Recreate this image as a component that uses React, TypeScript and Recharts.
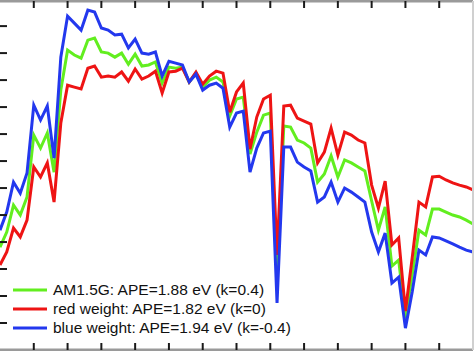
import React from 'react';
import { LineChart, Line, XAxis, YAxis } from 'recharts';

// sampling step along x (5 samples per major tick)
const X_STEP = 0.2;

const AM15G = [
  3.81, 4.37, 5.37, 5.0, 5.67, 7.96, 7.48, 8.04, 6.59, 9.63,
  11.11, 10.93, 10.81, 11.48, 11.56, 11.04, 11.0, 10.85, 11.0, 10.59,
  10.96, 10.52, 10.56, 10.67, 9.89, 10.48, 10.44, 10.48, 9.93, 10.26,
  9.74, 10.0, 10.11, 9.93, 8.67, 9.3, 9.37, 7.26, 8.07, 8.7,
  8.78, 2.59, 8.3, 8.26, 7.78, 7.67, 7.48, 6.22, 6.52, 7.19,
  6.41, 7.04, 6.93, 6.78, 6.63, 5.52, 4.44, 5.3, 3.11, 3.33,
  1.19, 2.78, 4.44, 4.26, 5.22, 5.22, 5.11, 5.0, 4.93, 4.81,
  4.67,
];

const RED_WEIGHT = [
  3.15, 3.63, 4.52, 4.19, 4.81, 6.78, 6.41, 6.93, 5.48, 8.41,
  9.81, 9.74, 9.67, 10.44, 10.52, 10.11, 10.15, 10.11, 10.3, 9.96,
  10.41, 10.04, 10.15, 10.33, 9.52, 10.3, 10.33, 10.44, 9.93, 10.3,
  9.85, 10.15, 10.33, 10.26, 8.81, 9.56, 9.89, 7.44, 8.63, 9.3,
  9.44, 3.52, 9.04, 9.07, 8.59, 8.48, 8.37, 6.93, 7.33, 8.22,
  7.22, 8.07, 7.96, 7.78, 7.67, 6.11, 5.26, 6.26, 3.89, 4.15,
  1.44, 3.41, 5.48, 5.3, 6.41, 6.44, 6.3, 6.19, 6.11, 6.04,
  5.93,
];

const BLUE_WEIGHT = [
  4.44, 5.11, 6.22, 5.81, 6.56, 9.07, 8.52, 9.04, 7.11, 10.85,
  12.37, 12.11, 11.85, 12.59, 12.52, 11.93, 11.85, 11.67, 11.7, 11.19,
  11.52, 11.0, 10.96, 11.04, 10.15, 10.7, 10.63, 10.56, 9.93, 10.22,
  9.63, 9.81, 9.89, 9.7, 8.26, 8.78, 8.85, 6.59, 7.48, 8.04,
  8.11, 1.74, 7.52, 7.52, 6.96, 6.78, 6.63, 5.48, 5.67, 6.22,
  5.48, 6.0, 5.85, 5.67, 5.48, 4.37, 3.63, 4.33, 2.48, 2.7,
  0.81, 2.15, 3.7, 3.52, 4.19, 4.15, 4.04, 3.93, 3.81, 3.7,
  3.63,
];

const X_TICKS = [1, 2, 3, 4, 5, 6, 7, 8, 9, 10, 11, 12, 13];
const Y_TICKS = [1, 2, 3, 4, 5, 6, 7, 8, 9, 10, 11, 12];

const SERIES = [
  { key: 'am', name: 'AM1.5G: APE=1.88 eV (k=0.4)', color: '#62ee1f' },
  { key: 'red', name: 'red weight: APE=1.82 eV (k=0)', color: '#ee1414' },
  { key: 'blue', name: 'blue weight: APE=1.94 eV (k=-0.4)', color: '#2338ee' },
];

const data = AM15G.map((v, i) => ({
  x: +(i * X_STEP).toFixed(1),
  am: v,
  red: RED_WEIGHT[i],
  blue: BLUE_WEIGHT[i],
}));

const LegendBox = () => (
  <div
    style={{
      position: 'absolute',
      left: 13,
      top: 281,
      fontFamily: '"Liberation Sans", Arial, sans-serif',
      fontSize: 15.5,
      color: '#111',
    }}
  >
    {SERIES.map((s) => (
      <div key={s.key} style={{ display: 'flex', alignItems: 'center', height: 18.8 }}>
        <svg width={34} height={4} style={{ display: 'block' }}>
          <line x1={0} y1={2} x2={34} y2={2} stroke={s.color} strokeWidth={3} />
        </svg>
        <span style={{ marginLeft: 6, whiteSpace: 'nowrap', lineHeight: '18.8px' }}>{s.name}</span>
      </div>
    ))}
  </div>
);

// no tick labels, only the inward tick marks
const NoLabel = () => <g />;
const tickLine = { stroke: '#1a1a1a', strokeWidth: 2 };

export default function App() {
  return (
    <div style={{ position: 'absolute', left: 0, top: 0, width: 474, height: 351, background: '#fff' }}>
      <LineChart width={474} height={351} data={data} margin={{ top: 1, right: 1, bottom: 1, left: 0 }}>
        <XAxis
          xAxisId="b"
          dataKey="x"
          type="number"
          domain={[0, 14]}
          ticks={X_TICKS}
          tick={NoLabel}
          mirror
          tickSize={7}
          tickLine={tickLine}
          axisLine={{ stroke: '#9a9a9a', strokeWidth: 3 }}
        />
        <XAxis
          xAxisId="t"
          orientation="top"
          dataKey="x"
          type="number"
          domain={[0, 14]}
          ticks={X_TICKS}
          tick={NoLabel}
          mirror
          tickSize={7}
          tickLine={tickLine}
          axisLine={{ stroke: '#9a9a9a', strokeWidth: 3 }}
        />
        <YAxis
          yAxisId="l"
          type="number"
          domain={[0, 12.93]}
          ticks={Y_TICKS}
          tick={NoLabel}
          mirror
          tickSize={7}
          tickLine={tickLine}
          axisLine={false}
        />
        <YAxis
          yAxisId="r"
          orientation="right"
          type="number"
          domain={[0, 12.93]}
          ticks={Y_TICKS}
          tick={NoLabel}
          mirror
          tickSize={7}
          tickLine={tickLine}
          axisLine={{ stroke: '#d0d0d0', strokeWidth: 2 }}
        />
        {SERIES.map((s) => (
          <Line
            key={s.key}
            xAxisId="b"
            yAxisId="l"
            type="linear"
            dataKey={s.key}
            name={s.name}
            stroke={s.color}
            strokeWidth={3}
            dot={false}
            isAnimationActive={false}
          />
        ))}
      </LineChart>
      <LegendBox />
    </div>
  );
}
